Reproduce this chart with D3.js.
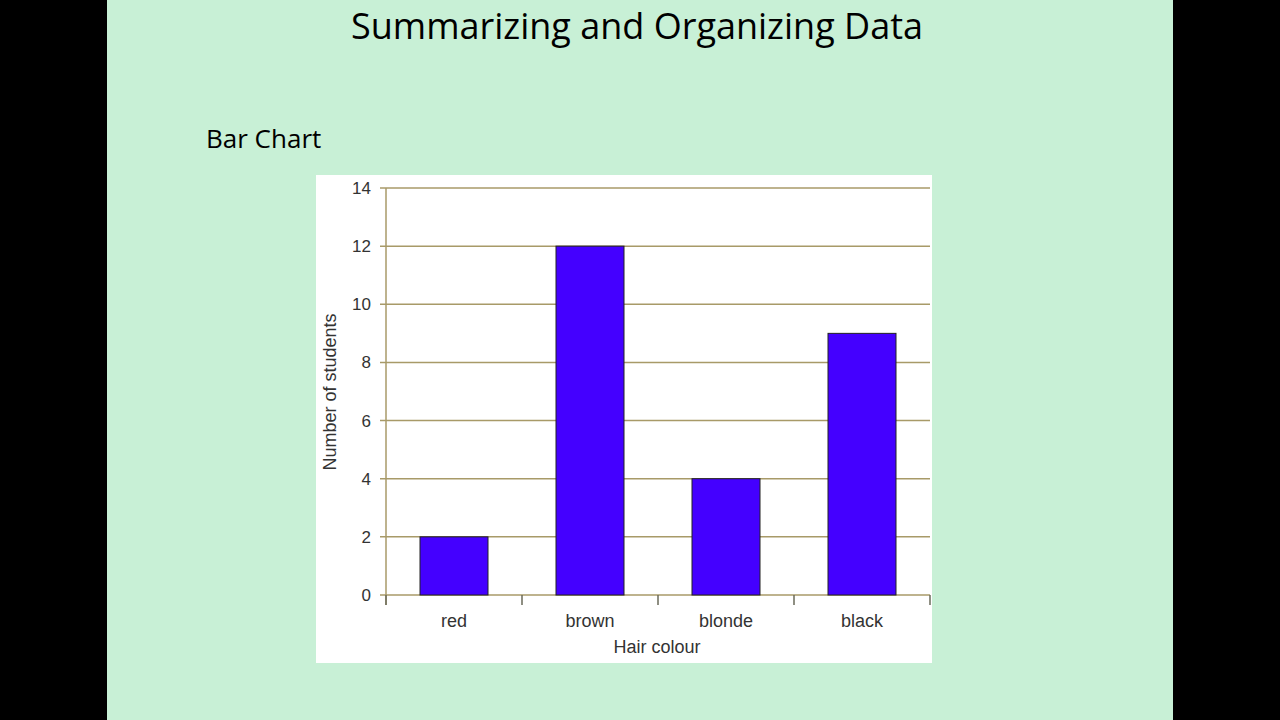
<!DOCTYPE html>
<html>
<head>
<meta charset="utf-8">
<script src="https://cdn.jsdelivr.net/npm/d3@7"></script>
<style>
  body { margin: 0; background: #000; }
  svg { display: block; }
</style>
</head>
<body>
<svg id="slide" width="1280" height="720"></svg>
<script>
const categories = ['red', 'brown', 'blonde', 'black']
const students = [2, 12, 4, 9]
const yTicks = [0, 2, 4, 6, 8, 10, 12, 14]

const svg = d3.select('#slide')
svg.append('rect').attr('x', 107).attr('y', 0).attr('width', 1066).attr('height', 720).attr('fill', '#c8f0d6')

svg.append('text').attr('x', 637).attr('y', 39).attr('text-anchor', 'middle')
  .style('font', '36px "Open Sans", sans-serif').attr('fill', '#000')
  .text('Summarizing and Organizing Data')
svg.append('text').attr('x', 206).attr('y', 148)
  .style('font', '26px "Open Sans", sans-serif').attr('fill', '#000')
  .text('Bar Chart')

// white chart panel
svg.append('rect').attr('x', 316).attr('y', 175).attr('width', 616).attr('height', 488).attr('fill', '#fff')

const x = d3.scaleBand().domain(categories).range([386, 930]).paddingInner(0.5).paddingOuter(0.25)
const y = d3.scaleLinear().domain([0, 14]).range([595, 188])
const grid = '#a89a68'
const g = svg.append('g')

// gridlines
g.selectAll('line.grid').data(yTicks).join('line')
  .attr('x1', 380).attr('x2', 930).attr('y1', d => y(d)).attr('y2', d => y(d))
  .attr('stroke', grid).attr('stroke-width', 1.5)

// y axis line
g.append('line').attr('x1', 386).attr('x2', 386).attr('y1', y(14)).attr('y2', 605)
  .attr('stroke', grid).attr('stroke-width', 1.5)

// x tick marks at band boundaries
const bounds = categories.map(c => x(c) - x.step() * x.paddingInner() / 2).concat([930])
g.selectAll('line.xt').data(bounds).join('line')
  .attr('x1', d => d).attr('x2', d => d).attr('y1', y(0)).attr('y2', 605)
  .attr('stroke', '#6a6a5a').attr('stroke-width', 1.5)

// bars
g.selectAll('rect.bar').data(students).join('rect')
  .attr('x', (d, i) => x(categories[i])).attr('width', x.bandwidth())
  .attr('y', d => y(d)).attr('height', d => y(0) - y(d))
  .attr('fill', '#4400ff').attr('stroke', '#222').attr('stroke-width', 1)

// y tick labels
g.selectAll('text.yl').data(yTicks).join('text')
  .attr('x', 371).attr('y', d => y(d) + 6).attr('text-anchor', 'end')
  .style('font', '17px "Liberation Sans", Arial, sans-serif').attr('fill', '#333')
  .text(d => d)

// x labels
g.selectAll('text.xl').data(categories).join('text')
  .attr('x', d => x(d) + x.bandwidth() / 2).attr('y', 627).attr('text-anchor', 'middle')
  .style('font', '18px "Liberation Sans", Arial, sans-serif').attr('fill', '#333')
  .text(d => d)

svg.append('text').attr('x', 657).attr('y', 653).attr('text-anchor', 'middle')
  .style('font', '18px "Liberation Sans", Arial, sans-serif').attr('fill', '#333')
  .text('Hair colour')
svg.append('text').attr('transform', 'translate(336,392) rotate(-90)').attr('text-anchor', 'middle')
  .style('font', '18px "Liberation Sans", Arial, sans-serif').attr('fill', '#333')
  .text('Number of students')
</script>
</body>
</html>
